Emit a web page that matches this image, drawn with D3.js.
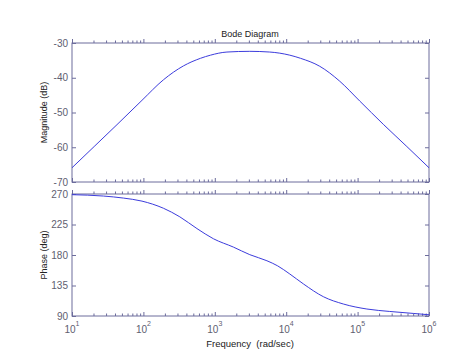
<!DOCTYPE html>
<html>
<head>
<meta charset="utf-8">
<script src="https://cdn.jsdelivr.net/npm/d3@7"></script>
<style>
  body { margin: 0; background: #fff; }
  text { font-family: "Liberation Sans", Arial, sans-serif; }
</style>
</head>
<body>
<svg id="chart" width="474" height="355"></svg>
<script>
// frequency (log10 rad/sec) and values
var magLogW = [1, 1.32, 1.63, 1.98, 2.28, 2.56, 2.8, 2.94, 3.17, 3.49, 3.77, 4.05, 4.2, 4.47, 4.75, 5.03, 5.36, 5.69, 6];
var magDb = [-65.9, -59.6, -53.5, -46.5, -40.6, -36.6, -34.4, -33.5, -32.6, -32.4, -32.6, -33.5, -34.4, -36.7, -41.0, -46.7, -53.4, -59.8, -65.9];

var phLogW = [1, 1.44, 1.72, 1.98, 2.13, 2.28, 2.51, 2.75, 2.98, 3.26, 3.49, 3.73, 3.88, 4.05, 4.24, 4.52, 4.8, 5.13, 5.45, 5.78, 6];
var phDeg = [269, 267, 264, 259.5, 255, 249, 236.3, 219, 204, 191.7, 180.5, 171.5, 164, 152, 137.4, 118.5, 107.7, 100.3, 96.7, 93.8, 91.8];

var magTicks = [-30, -40, -50, -60, -70];
var phTicks = [90, 135, 180, 225, 270];
var decades = [1, 2, 3, 4, 5, 6];

var axisColor = "#6c6c9c";
var textColor = "#606070";
var lineColor = "#3c3cdc";

var svg = d3.select("#chart");
var left = 72, right = 429;

var x = d3.scaleLog()
    .domain([1e1, 1e6])
    .range([left, right]);

var majors = decades.map(function (d) { return Math.pow(10, d); });
var minors = x.ticks().filter(function (t) { return majors.indexOf(t) < 0; });

function panel(top, bottom, domain, ticks, logW, vals) {
    var y = d3.scaleLinear().domain(domain).range([bottom, top]);
    var g = svg.append("g");

    g.append("rect")
        .attr("x", left).attr("y", top)
        .attr("width", right - left).attr("height", bottom - top)
        .attr("fill", "none").attr("stroke", axisColor).attr("stroke-width", 1);

    function xAxis(axisFn, yPos, vals, size) {
        var a = g.append("g")
            .attr("transform", "translate(0," + yPos + ")")
            .call(axisFn(x).tickValues(vals).tickSize(-size).tickSizeOuter(0).tickFormat(""));
        a.select(".domain").remove();
        a.selectAll("line").attr("stroke", axisColor);
    }
    xAxis(d3.axisBottom, bottom, majors, 4);
    xAxis(d3.axisBottom, bottom, minors, 2.5);
    xAxis(d3.axisTop, top, majors, -4);
    xAxis(d3.axisTop, top, minors, -2.5);

    var ya = g.append("g")
        .attr("transform", "translate(" + left + ",0)")
        .call(d3.axisLeft(y).tickValues(ticks).tickSize(-4).tickSizeOuter(0).tickPadding(4)
            .tickFormat(function (d) { return String(d); }));
    ya.select(".domain").remove();
    ya.selectAll("line").attr("stroke", axisColor);
    ya.selectAll("text")
        .attr("fill", textColor)
        .style("font-size", "10px")
        .style("font-family", "Liberation Sans, Arial, sans-serif");

    var yr = g.append("g")
        .attr("transform", "translate(" + right + ",0)")
        .call(d3.axisRight(y).tickValues(ticks).tickSize(-4).tickSizeOuter(0).tickFormat(""));
    yr.select(".domain").remove();
    yr.selectAll("line").attr("stroke", axisColor);

    var line = d3.line()
        .x(function (d, i) { return x(Math.pow(10, logW[i])); })
        .y(function (d) { return y(d); })
        .curve(d3.curveMonotoneX);

    g.append("path")
        .datum(vals)
        .attr("d", line)
        .attr("fill", "none")
        .attr("stroke", lineColor)
        .attr("stroke-width", 1);

    return y;
}

panel(43, 182, [-70, -30], magTicks, magLogW, magDb);
panel(194, 316, [90, 270], phTicks, phLogW, phDeg);

// x tick labels, 10 with exponent
var lab = svg.append("g");
decades.forEach(function (d) {
    var t = lab.append("text")
        .attr("x", x(Math.pow(10, d)))
        .attr("y", 333)
        .attr("text-anchor", "middle")
        .attr("fill", textColor)
        .style("font-size", "10px");
    t.append("tspan").text("10");
    t.append("tspan").attr("dy", -7).style("font-size", "7px").text(d);
});

svg.append("text")
    .attr("x", 250).attr("y", 36.5)
    .attr("text-anchor", "middle")
    .attr("fill", "#222")
    .style("font-size", "9px")
    .text("Bode Diagram");

svg.append("text")
    .attr("x", 250).attr("y", 347)
    .attr("text-anchor", "middle")
    .attr("fill", "#222")
    .style("font-size", "9.5px")
    .attr("xml:space", "preserve")
    .text("Frequency  (rad/sec)");

svg.append("text")
    .attr("transform", "translate(47," + ((43 + 182) / 2) + ") rotate(-90)")
    .attr("text-anchor", "middle")
    .attr("fill", "#222")
    .style("font-size", "9px")
    .text("Magnitude (dB)");

svg.append("text")
    .attr("transform", "translate(47," + ((194 + 316) / 2) + ") rotate(-90)")
    .attr("text-anchor", "middle")
    .attr("fill", "#222")
    .style("font-size", "9px")
    .text("Phase (deg)");
</script>
</body>
</html>
